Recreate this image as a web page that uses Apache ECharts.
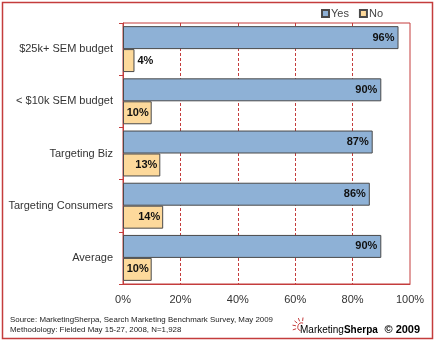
<!DOCTYPE html>
<html>
<head>
<meta charset="utf-8">
<script src="https://cdn.jsdelivr.net/npm/echarts@6/dist/echarts.min.js"></script>
<style>
	html, body { margin: 0; padding: 0; background: #fff; }
	#chart { width: 435px; height: 342px; }
</style>
</head>
<body>
<div id="chart"></div>
<script>
// categories and values
var categories = ['$25k+ SEM budget', '< $10k SEM budget', 'Targeting Biz', 'Targeting Consumers', 'Average'];
var yesValues = [96, 90, 87, 86, 90];
var noValues = [4, 10, 13, 14, 10];
var xTicks = [0, 20, 40, 60, 80, 100];

var red = '#c43c3c';
var myChart = echarts.init(document.getElementById('chart'));

//No 4% 的标签放在柱子外面
var noData = noValues.map(function(v) {
	var item = { value: v };
	if (v < 8) {
		item.label = { position: 'right' };
	}
	return item;
});

//logo 小太阳的光芒
var sunRays = [0, 1, 2, 3, 4].map(function(i) {
	var a = Math.PI * 0.9 + i * Math.PI * 0.16;
	return {
		type: 'line',
		shape: {
			x1: 10 + Math.cos(a) * 6, y1: 11 + Math.sin(a) * 6,
			x2: 10 + Math.cos(a) * 9.5, y2: 11 + Math.sin(a) * 9.5
		},
		style: { stroke: red, lineWidth: 1 }
	};
});

var option = {
	animation: false,
	textStyle: { fontFamily: 'Arial, "Liberation Sans", sans-serif' },
	legend: {
		right: 47,
		top: 3,
		itemWidth: 7,
		itemHeight: 7,
		itemGap: 10,
		icon: 'rect',
		textStyle: { fontSize: 11, color: '#444', padding: [0, 0, 0, -3] },
		data: ['Yes', 'No']
	},
	grid: {
		left: 123,
		right: 25,
		top: 23,
		bottom: 58,
		show: true,
		borderColor: red,
		borderWidth: 1
	},
	xAxis: {
		type: 'value',
		min: xTicks[0],
		max: xTicks[xTicks.length - 1],
		interval: 20,
		axisLine: { show: true, lineStyle: { color: red } },
		axisTick: { show: false },
		axisLabel: { formatter: '{value}%', color: '#333', fontSize: 11, margin: 10 },
		splitLine: {
			show: true,
			showMinLine: false,
			showMaxLine: false,
			lineStyle: { color: red, type: [3, 2], width: 1 }
		}
	},
	yAxis: {
		type: 'category',
		inverse: true,
		data: categories,
		axisLine: { show: true, lineStyle: { color: red } },
		axisTick: { show: true, length: 4, lineStyle: { color: red } },
		axisLabel: { color: '#333', fontSize: 11, margin: 10 }
	},
	series: [{
		name: 'Yes',
		type: 'bar',
		data: yesValues,
		barGap: '0%',
		barCategoryGap: '12%',
		itemStyle: { color: '#8eb1d6', borderColor: '#4a4a4a', borderWidth: 1 },
		label: {
			show: true,
			position: 'insideRight',
			formatter: '{c}%',
			fontWeight: 'bold',
			fontSize: 11,
			color: '#111',
			distance: 4
		}
	}, {
		name: 'No',
		type: 'bar',
		data: noData,
		barGap: '0%',
		barCategoryGap: '12%',
		itemStyle: { color: '#fdd99b', borderColor: '#4a4a4a', borderWidth: 1 },
		label: {
			show: true,
			position: 'insideRight',
			formatter: '{c}%',
			fontWeight: 'bold',
			fontSize: 11,
			color: '#111',
			distance: 3
		}
	}],
	graphic: [{
		type: 'rect',
		shape: { x: 2.5, y: 2.5, width: 430, height: 336 },
		style: { fill: 'none', stroke: red, lineWidth: 1.5 },
		silent: true
	}, {
		type: 'text',
		left: 10,
		top: 315,
		style: {
			text: 'Source: MarketingSherpa, Search Marketing Benchmark Survey, May 2009\nMethodology: Fielded May 15-27, 2008, N=1,928',
			font: '7.9px Arial, "Liberation Sans", sans-serif',
			fill: '#222',
			lineHeight: 10
		}
	}, {
		type: 'group',
		left: 290,
		top: 315,
		children: [{
			type: 'arc',
			shape: { cx: 10, cy: 11, r: 4, startAngle: Math.PI * 0.6, endAngle: Math.PI * 1.6 },
			style: { stroke: red, fill: 'none', lineWidth: 1 }
		}].concat(sunRays)
	}, {
		type: 'text',
		left: 300,
		top: 324,
		style: {
			text: '{a|Marketing}{b|Sherpa}  {c|© 2009}',
			rich: {
				a: { fontSize: 10, color: '#777', fontFamily: 'Arial' },
				b: { fontSize: 10, color: '#333', fontWeight: 'bold', fontFamily: 'Arial' },
				c: { fontSize: 11, color: '#222', fontWeight: 'bold', fontFamily: 'Arial' }
			}
		}
	}]
};
myChart.setOption(option);
</script>
</body>
</html>
